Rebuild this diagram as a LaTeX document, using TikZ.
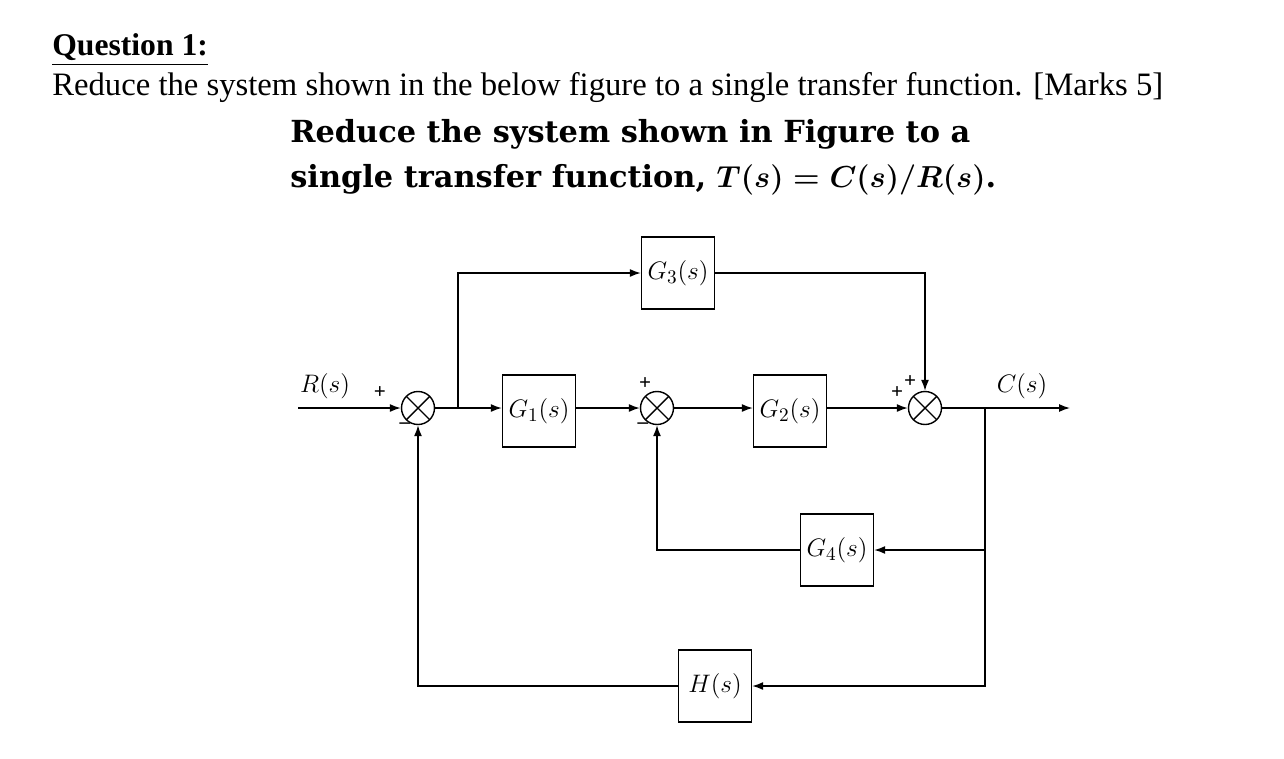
\documentclass[tikz,border=0pt]{standalone}
\usepackage{amsmath}
\usepackage{fontspec}
\setmainfont{Liberation Serif}
\newfontfamily\bookfont{DejaVu Serif}
\usetikzlibrary{positioning,arrows.meta}
\tikzset{
  blk/.style={draw, thick, minimum width=1.46cm, minimum height=1.44cm, inner sep=0pt, font=\fontsize{15}{15}\selectfont},
  sumj/.style={draw, thick, circle, minimum size=0.66cm, inner sep=0pt, path picture={
      \draw[thick] (path picture bounding box.north west) -- (path picture bounding box.south east)
        (path picture bounding box.north east) -- (path picture bounding box.south west);}},
  sig/.style={thick, -{Latex[length=2.2mm,width=1.6mm]}},
  sgn/.style={font=\bfseries\large}
}
\begin{document}
\begin{tikzpicture}[x=0.02cm,y=-0.02cm]
\useasboundingbox (0,0) rectangle (1284,758);
% heading
\node[anchor=base west, font=\fontsize{18}{18}\selectfont\bfseries, inner sep=0pt] (q) at (52,55) {\underline{Question 1:}};
\node[anchor=base west, font=\fontsize{18.6}{18}\selectfont, inner sep=0pt] (t) at (52,95) {Reduce the system shown in the below figure to a single transfer function. [Marks 5]};
\node[anchor=base west, font=\bookfont\bfseries\fontsize{17.3}{17}\selectfont, inner sep=0pt] (t1) at (290,142) {Reduce the system shown in Figure to a};
\node[anchor=base west, font=\bookfont\bfseries\fontsize{17.3}{17}\selectfont, inner sep=0pt] (t2) at (290,187) {single transfer function, $\boldsymbol{T(s)=C(s)/R(s)}$.};
% blocks and junctions
\node[sumj] (s1) at (418,408) {};
\node[sumj] (s2) at (657,408) {};
\node[sumj] (s3) at (925,408) {};
\node[blk] (g1) at (539,411) {$G_1(s)$};
\node[blk] (g2) at (790,411) {$G_2(s)$};
\node[blk] (g3) at (678,273) {$G_3(s)$};
\node[blk] (g4) at (837,550) {$G_4(s)$};
\node[blk] (h) at (715,686) {$H(s)$};
\coordinate (in) at (298,408);
\coordinate (out) at (1070,408);
\coordinate (b1) at (458,408);
\coordinate (b2) at (985,408);
% forward path
\draw[sig] (in) -- (s1);
\draw[sig] (s1) -- (g1.west |- s1);
\draw[sig] (g1.east |- s2) -- (s2);
\draw[sig] (s2) -- (g2.west |- s2);
\draw[sig] (g2.east |- s3) -- (s3);
\draw[sig] (s3) -- (out);
\draw[sig] (b1) |- (g3);
\draw[sig] (g3) -| (s3);
% feedback
\draw[sig] (b2) |- (g4);
\draw[sig] (g4) -| (s2);
\draw[sig] (b2) |- (h);
\draw[sig] (h) -| (s1);
% labels
\node[font=\fontsize{14}{14}\selectfont] (rl) at (325,386) {$R(s)$};
\node[font=\fontsize{14}{14}\selectfont] (cl) at (1022,386) {$C(s)$};
\node[sgn] (p1) at (380,393) {+};
\node[sgn] (m1) at (405,426) {--};
\node[sgn] (p2) at (645,384) {+};
\node[sgn] (m2) at (643,426) {--};
\node[sgn] (p3) at (897,393) {+};
\node[sgn] (p4) at (910,382) {+};
\end{tikzpicture}
\end{document}
